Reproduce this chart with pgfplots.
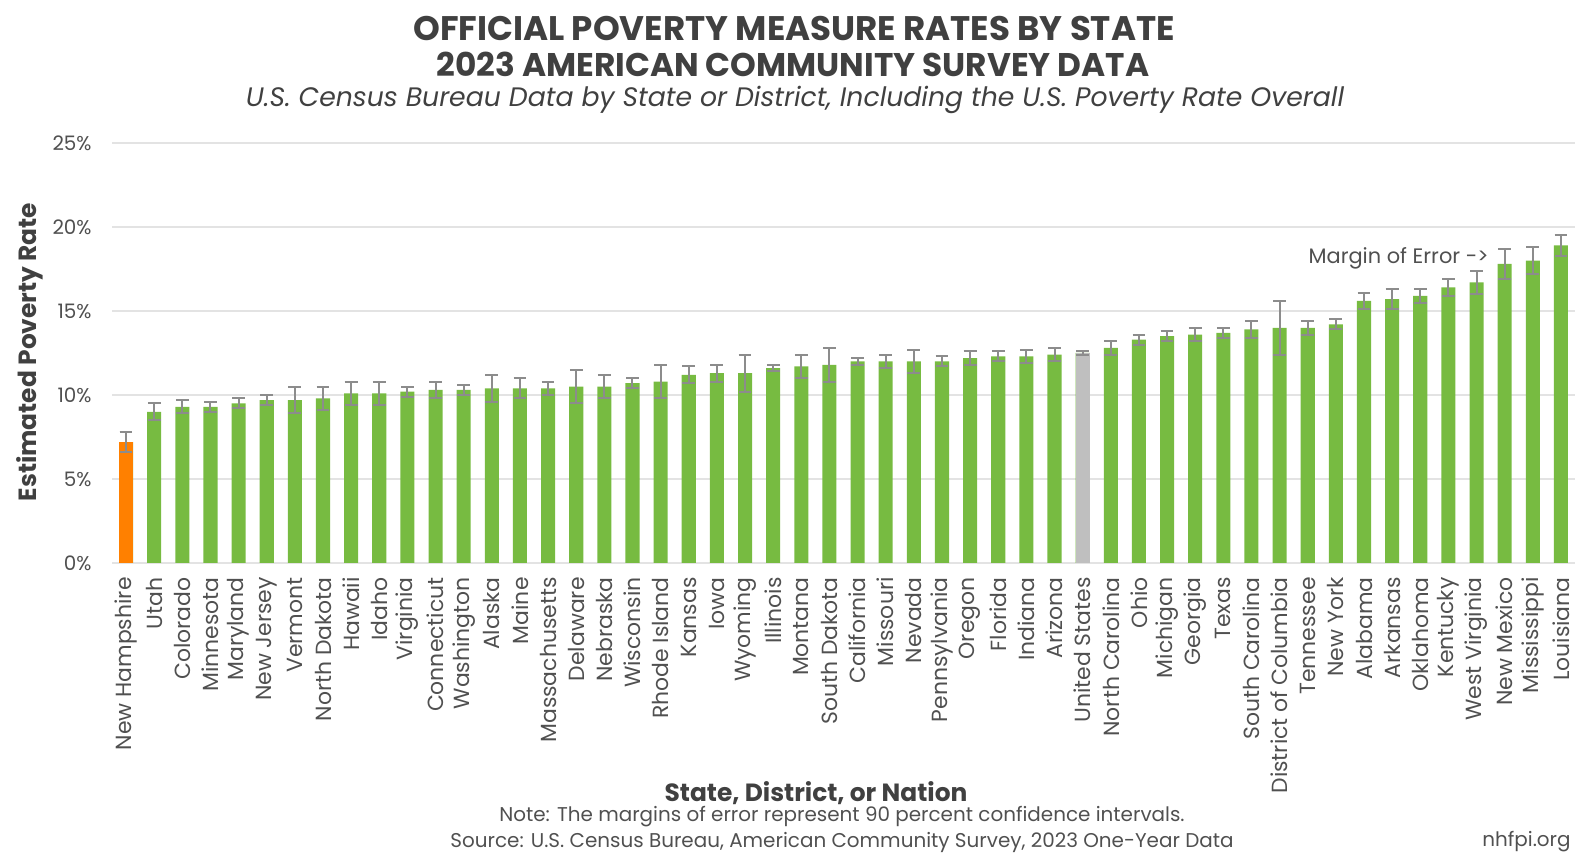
\documentclass[border=0pt]{standalone}
\usepackage{fontspec}
\setmainfont{Poppins}
\usepackage{pgfplots}
\pgfplotsset{compat=1.18}
\usepackage{pgfplotstable}
\definecolor{barg}{HTML}{77BB41}
\definecolor{baro}{HTML}{FF8000}
\definecolor{barus}{HTML}{BFBFBF}
\definecolor{errc}{HTML}{8C8C8C}
\definecolor{gridc}{HTML}{E3E3E3}
\definecolor{titlec}{HTML}{404040}
\definecolor{tickc}{HTML}{505050}

\pgfplotstableread{
x y e
0 7.2 0.6
1 9.0 0.5
2 9.3 0.4
3 9.3 0.3
4 9.5 0.3
5 9.7 0.3
6 9.7 0.8
7 9.8 0.7
8 10.1 0.7
9 10.1 0.7
10 10.2 0.3
11 10.3 0.5
12 10.3 0.3
13 10.4 0.8
14 10.4 0.6
15 10.4 0.4
16 10.5 1.0
17 10.5 0.7
18 10.7 0.3
19 10.8 1.0
20 11.2 0.5
21 11.3 0.5
22 11.3 1.1
23 11.6 0.2
24 11.7 0.7
25 11.8 1.0
26 12.0 0.2
27 12.0 0.4
28 12.0 0.7
29 12.0 0.3
30 12.2 0.4
31 12.3 0.3
32 12.3 0.4
33 12.4 0.4
34 12.5 0.1
35 12.8 0.4
36 13.3 0.3
37 13.5 0.3
38 13.6 0.4
39 13.7 0.3
40 13.9 0.5
41 14.0 1.6
42 14.0 0.4
43 14.2 0.3
44 15.6 0.5
45 15.7 0.6
46 15.9 0.4
47 16.4 0.5
48 16.7 0.7
49 17.8 0.9
50 18.0 0.8
51 18.9 0.6
}\statedata

\pgfplotstableread{
x y e
0 7.2 0.6
}\nhdata

\pgfplotstableread{
x y e
34 12.5 0.1
}\usdata

\begin{document}
\begin{tikzpicture}
\path[use as bounding box] (0bp,0bp) rectangle (795.5bp,434bp);
\begin{axis}[
  at={(56bp,152.5bp)}, anchor=south west,
  scale only axis, width=731.5bp, height=210bp,
  xmin=-0.5, xmax=51.5, ymin=0, ymax=25,
  axis line style={draw=none},
  major tick length=0pt,
  ytick={0,5,10,15,20,25},
  yticklabel={\pgfmathprintnumber{\tick}\%},
  /pgf/number format/assume math mode=true,
  ymajorgrids, grid style={gridc, line width=0.9bp},
  yticklabel style={font=\fontsize{10}{12}\selectfont, text=tickc, anchor=east, inner sep=0pt, xshift=-10bp},
  xtick={0,...,51},
  xticklabels={New Hampshire, Utah, Colorado, Minnesota, Maryland, New Jersey, Vermont, North Dakota, Hawaii, Idaho, Virginia, Connecticut, Washington, Alaska, Maine, Massachusetts, Delaware, Nebraska, Wisconsin, Rhode Island, Kansas, Iowa, Wyoming, Illinois, Montana, South Dakota, California, Missouri, Nevada, Pennsylvania, Oregon, Florida, Indiana, Arizona, United States, North Carolina, Ohio, Michigan, Georgia, Texas, South Carolina, District of Columbia, Tennessee, New York, Alabama, Arkansas, Oklahoma, Kentucky, West Virginia, New Mexico, Mississippi, Louisiana},
  xticklabel style={font=\fontsize{11}{13}\selectfont, text=tickc, rotate=90, anchor=east, inner sep=0pt},
  xticklabel shift=7bp,
  error bars/error bar style={errc, line width=1bp},
  error bars/error mark options={errc, line width=1bp, mark size=3.2bp, rotate=90},
]
\addplot[ybar, bar shift=0pt, bar width=0.5, fill=barg, draw=none,
  error bars/.cd, y dir=both, y explicit]
  table[x=x, y=y, y error=e] {\statedata};
\addplot[ybar, bar shift=0pt, bar width=0.5, fill=baro, draw=none,
  error bars/.cd, y dir=both, y explicit]
  table[x=x, y=y, y error=e] {\nhdata};
\addplot[ybar, bar shift=0pt, bar width=0.5, fill=barus, draw=none,
  error bars/.cd, y dir=both, y explicit]
  table[x=x, y=y, y error=e] {\usdata};
\end{axis}
\node[text=titlec, font=\bfseries\fontsize{17.1}{19}\selectfont] at (397bp,420bp) {OFFICIAL POVERTY MEASURE RATES BY STATE};
\node[text=titlec, font=\bfseries\fontsize{16.45}{19}\selectfont] at (396.5bp,402bp) {2023 AMERICAN COMMUNITY SURVEY DATA};
\node[text=titlec, font=\itshape\fontsize{13.4}{15}\selectfont] at (397.5bp,384bp) {U.S. Census Bureau Data by State or District, Including the U.S. Poverty Rate Overall};
\node[text=titlec, font=\bfseries\fontsize{12.5}{14}\selectfont, rotate=90] at (15bp,258bp) {Estimated Poverty Rate};
\node[text=titlec, font=\bfseries\fontsize{12.5}{14}\selectfont] at (408bp,37.5bp) {State, District, or Nation};
\node[text=tickc, font=\fontsize{10}{12}\selectfont] at (421bp,25.5bp) {Note: The margins of error represent 90 percent confidence intervals.};
\node[text=tickc, font=\fontsize{10}{12}\selectfont] at (421bp,13bp) {Source: U.S. Census Bureau, American Community Survey, 2023 One-Year Data};
\node[text=tickc, font=\fontsize{10}{12}\selectfont, anchor=east, inner sep=0pt] at (785.5bp,13bp) {nhfpi.org};
\node[text=tickc, font=\fontsize{10.5}{12}\selectfont, anchor=east, inner sep=0pt] at (744.5bp,305bp) {Margin of Error ->};
\end{tikzpicture}
\end{document}
